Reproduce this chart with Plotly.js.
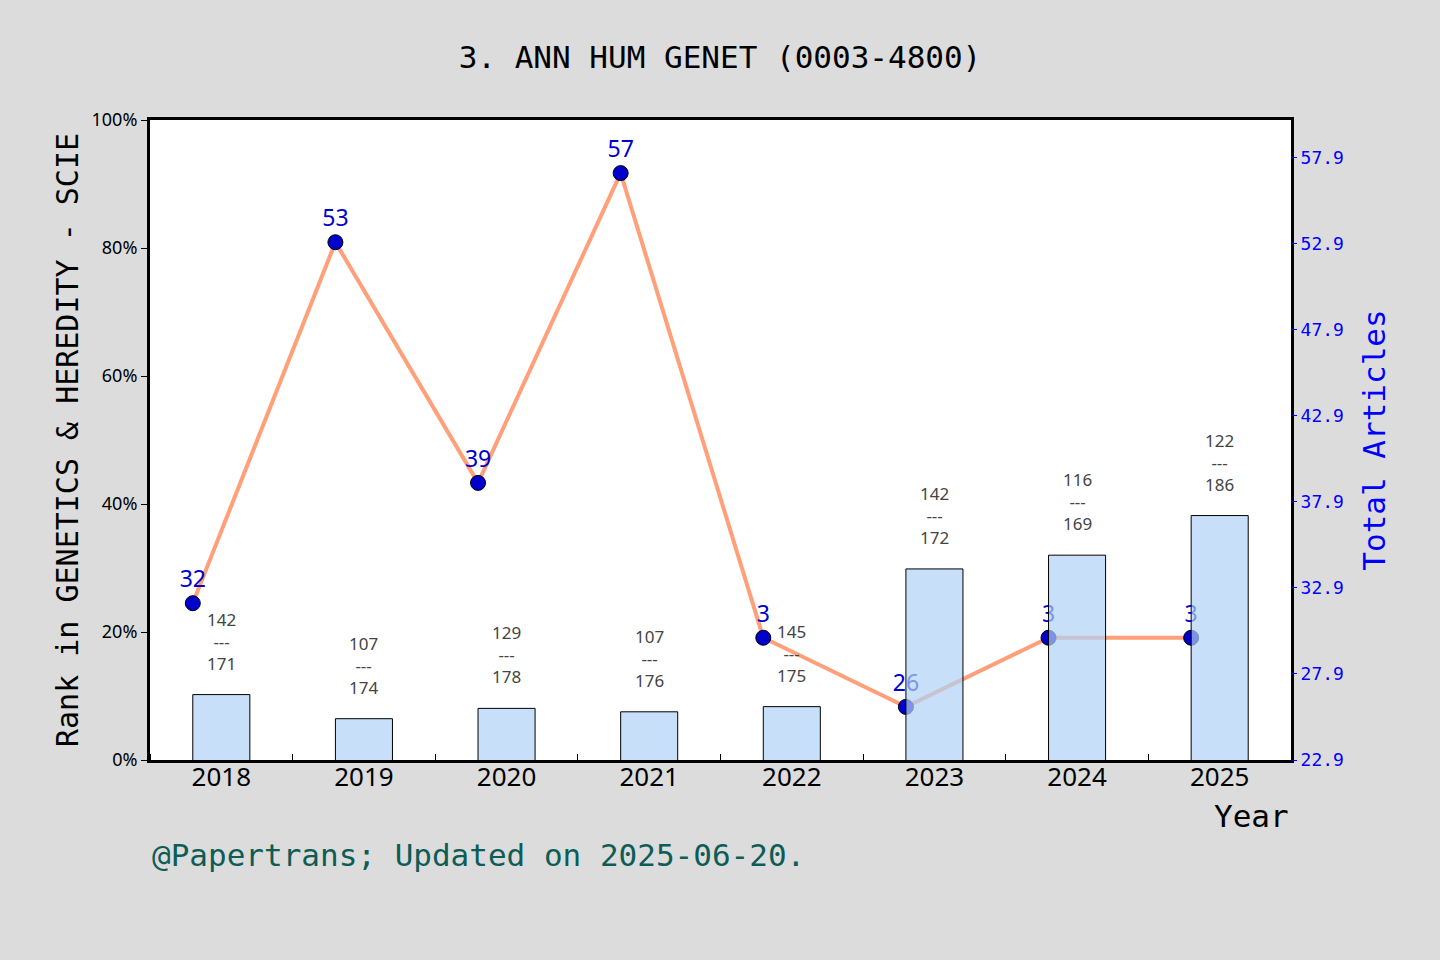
<!DOCTYPE html>
<html>
<head>
<meta charset="utf-8">
<script src="https://cdn.plot.ly/plotly-3.0.1.min.js"></script>
<style>
  html, body { margin: 0; padding: 0; background: #dcdcdc; }
  #chart { width: 1440px; height: 960px; }
</style>
</head>
<body>
<div id="chart"></div>
<script>
// ---- data ----
const years = [2018, 2019, 2020, 2021, 2022, 2023, 2024, 2025];
const totalArticles = [26.7, 25.3, 25.9, 25.7, 26.0, 34.0, 34.8, 37.1];
const rankPercent = [24.5, 80.9, 43.3, 91.7, 19.1, 8.3, 19.1, 19.1];
const rankLabels = ['32', '53', '39', '57', '3', '26', '3', '3'];
const rankNumerator = [142, 107, 129, 107, 145, 142, 116, 122];
const rankDenominator = [171, 174, 178, 176, 175, 172, 169, 186];
const yearLabels = ['2018', '2019', '2020', '2021', '2022', '2023', '2024', '2025'];

const MONO = 'DejaVu Sans Mono, Liberation Mono, monospace';
const SANS = 'Noto Sans, Liberation Sans, sans-serif';

const lineX = years.map(y => y - 0.2);
const boundaries = years.map(y => y - 0.5).concat([years[years.length - 1] + 0.5]);

const lineTrace = {
  type: 'scatter',
  mode: 'lines+markers+text',
  x: lineX,
  y: rankPercent,
  yaxis: 'y',
  text: rankLabels,
  textposition: 'top center',
  textfont: { family: SANS, size: 23, color: '#0000cd' },
  line: { color: '#ffa07a', width: 4 },
  marker: { size: 15, color: '#0000cd', line: { color: '#000', width: 1 } },
  hoverinfo: 'x+y',
  showlegend: false,
  cliponaxis: false
};

const barTrace = {
  type: 'bar',
  x: years,
  y: totalArticles,
  yaxis: 'y2',
  width: 0.4,
  marker: { color: 'rgba(175,210,245,0.7)', line: { color: '#000', width: 1 } },
  showlegend: false,
  hoverinfo: 'x+y'
};

const annotations = years.map((yr, i) => ({
  xref: 'x', yref: 'y2',
  x: yr, y: totalArticles[i],
  yanchor: 'bottom',
  yshift: 18,
  showarrow: false,
  text: rankNumerator[i] + '<br>---<br>' + rankDenominator[i],
  font: { family: SANS, size: 17, color: '#444' }
}));

annotations.push({
  xref: 'paper', yref: 'paper', x: 1, y: -0.087,
  xanchor: 'right', yanchor: 'middle', showarrow: false,
  text: 'Year', font: { family: MONO, size: 31, color: '#000' }
});
annotations.push({
  xref: 'paper', yref: 'paper', x: 0, y: -0.148,
  xanchor: 'left', yanchor: 'middle', showarrow: false,
  text: '@Papertrans; Updated on 2025-06-20.',
  font: { family: MONO, size: 31, color: '#0d5c55' }
});

const layout = {
  width: 1440, height: 960,
  paper_bgcolor: '#dcdcdc',
  plot_bgcolor: '#ffffff',
  margin: { l: 150, r: 149, t: 120, b: 200 },
  title: {
    text: '3. ANN HUM GENET (0003-4800)',
    font: { family: MONO, size: 31, color: '#000' },
    x: 0.5, xref: 'container', xanchor: 'center',
    y: 0.94, yref: 'container', yanchor: 'middle'
  },
  xaxis: {
    type: 'linear',
    range: [years[0] - 0.5, years[years.length - 1] + 0.5],
    tickmode: 'array',
    tickvals: years,
    ticktext: yearLabels,
    ticks: '',
    ticklabelstandoff: -8,
    tickfont: { family: SANS, size: 26, color: '#000' },
    showgrid: false, zeroline: false,
    showline: true, linecolor: '#000', linewidth: 3, mirror: true,
    minor: { tickmode: 'array', tickvals: boundaries, ticks: 'inside', ticklen: 6, tickcolor: '#000', tickwidth: 1, showgrid: false }
  },
  yaxis: {
    range: [0, 100],
    tickmode: 'array',
    tickvals: [0, 20, 40, 60, 80, 100],
    ticktext: ['0%', '20%', '40%', '60%', '80%', '100%'],
    ticks: 'outside', ticklen: 6, tickcolor: '#000',
    tickfont: { family: SANS, size: 18, color: '#000' },
    showgrid: false, zeroline: false,
    showline: true, linecolor: '#000', linewidth: 3, mirror: true,
    title: { text: 'Rank in GENETICS & HEREDITY - SCIE', font: { family: MONO, size: 30, color: '#000' }, standoff: 5 }
  },
  yaxis2: {
    overlaying: 'y',
    side: 'right',
    range: [22.9, 60.08],
    tickmode: 'linear', tick0: 22.9, dtick: 5,
    tickformat: '.1f',
    ticks: 'outside', ticklen: 5, tickcolor: '#0000ff',
    tickfont: { family: MONO, size: 18, color: '#0000ff' },
    showgrid: false, zeroline: false, showline: false,
    title: { text: 'Total Articles', font: { family: MONO, size: 31, color: '#0000ff' }, standoff: 20 }
  },
  annotations: annotations,
  bargap: 0.6
};

Plotly.newPlot('chart', [lineTrace, barTrace], layout, { displayModeBar: false, staticPlot: true });
</script>
</body>
</html>
